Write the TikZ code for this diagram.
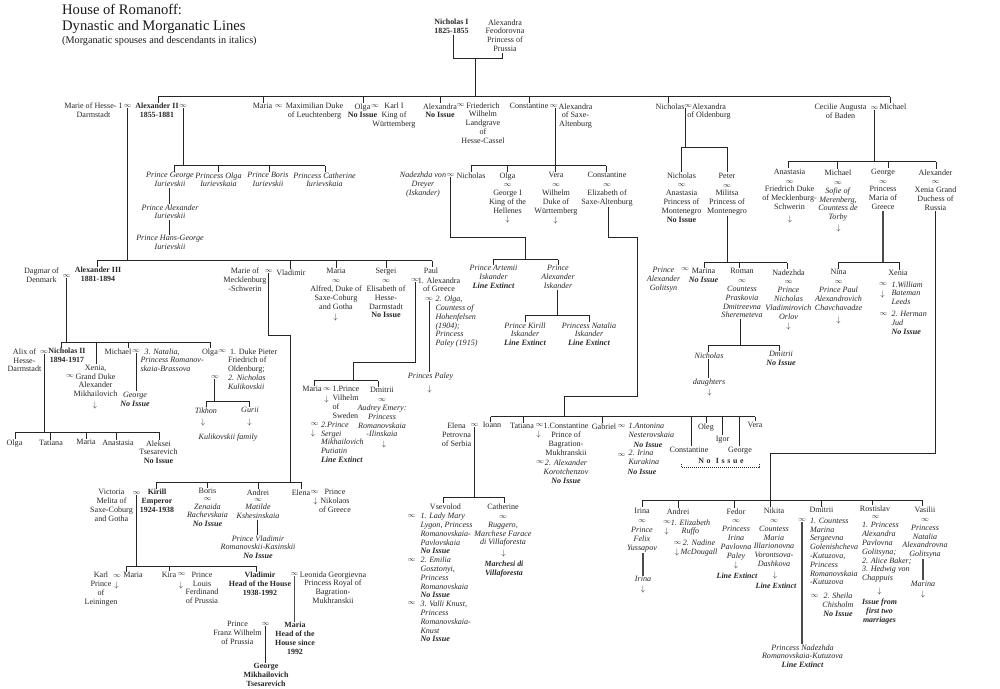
\documentclass[tikz,border=0pt]{standalone}
\usepackage{fontspec}
\setmainfont{Liberation Serif}
\newcounter{autoname}
\newcommand\bi[1]{\textbf{\textit{#1}}}
\newcommand\lem{{\fontsize{7}{7}\selectfont$\infty$}}
\tikzset{
  tx/.style={inner sep=1pt,outer sep=0pt,anchor=north,align=center,text=black!85,font=\fontsize{8.1}{8.8}\selectfont},
  lf/.style={tx,anchor=north west,align=left},
  it/.style={font=\fontsize{8.1}{8.8}\selectfont\itshape},
  bf/.style={font=\fontsize{7.9}{8.8}\selectfont\bfseries},
  bit/.style={font=\fontsize{7.9}{8.8}\selectfont\bfseries\itshape},
  ln/.style={draw=black!85,line width=1pt},
  thk/.style={draw=black!70,line width=1.5pt},
  oo/.style={inner sep=0.5pt,outer sep=0pt,text=black!80,font=\fontsize{7}{7}\selectfont},
  ar/.style={inner sep=0pt,outer sep=0pt,text=black!80,font=\fontsize{8}{8}\selectfont}
}
% text node: name, x, y of first line centre, text
\newcommand\T[5][]{\node[tx,#1] (#2) at (#3,#4-3.5) {#5};}
\newcommand\Tl[5][]{\node[lf,#1] (#2) at (#3,#4-3.5) {#5};}
\newcommand\M[3]{\node[oo] (#1) at (#2,#3) {$\infty$};}
\newcommand\Ar[2]{\stepcounter{autoname}\node[ar] (arrow\theautoname) at (#1,#2) {$\downarrow$};}
% bus: y, xmin, xmax, list x/name
\newcommand\Bus[4]{\draw[ln] (#2,#1) -- (#3,#1);
  \foreach \x/\n in {#4} {\draw[ln] (\x,#1) -- (\x,#1 |- \n.north);}}
\begin{document}
\begin{tikzpicture}[x=1pt,y=-1pt]
\useasboundingbox (0,0) rectangle (1000,688);
% title
\node[inner sep=0pt,anchor=west,text=black!90,font=\fontsize{14.6}{18}\selectfont] (title1) at (62,9) {House of Romanoff:};
\node[inner sep=0pt,anchor=west,text=black!90,font=\fontsize{14.6}{18}\selectfont] (title2) at (62,27) {Dynastic and Morganatic Lines};
\node[inner sep=0pt,anchor=west,text=black!90,font=\fontsize{10.2}{12}\selectfont] (title3) at (62,41.5) {(Morganatic spouses and descendants in italics)};
% top
\T[bf]{nI}{451.5}{22}{Nicholas I\\1825-1855}
\T{alF}{505}{22}{Alexandra\\Feodorovna\\Princess of\\Prussia}
\coordinate (topj) at (475.5,58);
\draw[ln] (453,0 |- nI.south) -- (453,58) -- (502,58) -- (502,0 |- alF.south);
\draw[ln] (topj) -- (475.5,96.5);
\T{marieH}{93.5}{105.5}{Marie of Hesse- 1\\Darmstadt}
\M{mA}{127.5}{106}
\T[bf]{alexII}{157}{106}{Alexander II\\1855-1881}
\M{mB}{183}{106}
\T{mariaL}{262.5}{106}{Maria}
\M{mC}{278.5}{106}
\T{maxi}{314.5}{105.5}{Maximilian Duke\\of Leuchtenberg}
\T{olgaW}{362.5}{106}{Olga\\\textbf{No Issue}}
\M{mD}{375}{106}
\T{karl}{394}{105.5}{Karl I\\King of\\Württemberg}
\T{alexa}{440}{106}{Alexandra\\\textbf{No Issue}}
\M{mE}{460.5}{105}
\T{fried}{483}{105}{Friederich\\Wilhelm\\Landgrave\\of\\Hesse-Cassel}
\T{const}{529}{106}{Constantine}
\M{mF}{553.5}{106}
\T{alexS}{575.5}{106}{Alexandra\\of Saxe-\\Altenburg}
\T{nichO}{670}{106}{Nicholas}
\M{mG}{688}{106}
\T{alexO}{709}{106}{Alexandra\\of Oldenburg}
\T{cecil}{840.5}{106.5}{Cecilie Augusta\\of Baden}
\M{mH}{874.5}{108}
\T{micha}{893}{106}{Michael}
\Bus{96.5}{158}{890}{158/alexII,263.5/mariaL,363.5/olgaW,440/alexa,529/const,668/nichO,890/micha}
% Alexander II's second marriage
\draw[ln] (mB.south) -- (mB.south |- 0,165.5);
\T[it]{pgeo}{170}{175}{Prince George\\Iurievskii}
\T[it]{polg}{218.5}{175}{Princess Olga\\Iurievskaia}
\T[it]{pbor}{268}{175}{Prince Boris\\Iurievskii}
\T[it]{pcat}{324.5}{175}{Princess Catherine\\Iurievskaia}
\Bus{165.5}{174}{325}{174/pgeo,218/polg,269/pbor,325/pcat}
\T[it]{palx}{170}{207}{Prince Alexander\\Iurievskii}
\T[it]{phan}{170}{238}{Prince Hans-George\\Iurievskii}
\draw[ln] (169.5,0 |- pgeo.south) -- (169.5,0 |- palx.north);
\draw[ln] (169.5,0 |- palx.south) -- (169.5,0 |- phan.north);
% Alexander II first marriage
\draw[ln] (mA.south) -- (mA.south |- 0,260.5);
\T{dagm}{41.5}{270}{Dagmar of\\Denmark}
\M{mI}{66.5}{275.5}
\T[bf]{alexIII}{98}{270}{Alexander III\\1881-1894}
\T{marieM}{245}{270.5}{Marie of\\Mecklenburg\\-Schwerin}
\M{mJ}{268.5}{271}
\T{vlad}{291}{272}{Vladimir}
\T{mariaA}{336}{271}{Maria\\\lem\\Alfred, Duke of\\Saxe-Coburg\\and Gotha}
\Ar{335.5}{317}
\T{serg}{386}{271}{Sergei\\\lem\\Elisabeth of\\Hesse-\\Darmstadt\\\textbf{No Issue}}
\T{paul}{431}{270.5}{Paul}
\M{mK}{415}{280}
\T{alexG}{439}{280}{1. Alexandra\\of Greece}
\M{mL}{429}{298.5}
\Tl[it]{olgaP}{434.5}{298.5}{2. Olga,\\Countess of\\Hohenfelsen\\(1904);\\Princess\\Paley (1915)}
\Bus{260.5}{97}{432}{97/alexIII,290/vlad,336/mariaA,386/serg,432/paul}
% Constantine family
\draw[ln] (555,0 |- mF.south) -- (555,165.5);
\T[it]{nadez}{423}{174.5}{Nadezhda von\\Dreyer\\(Iskander)}
\M{mM}{450.5}{175}
\T{nichC}{471}{175}{Nicholas}
\T{olgaH}{507.5}{175}{Olga\\\lem\\George I\\King of the\\Hellenes}
\Ar{507.5}{219}
\T{veraW}{556}{175}{Vera\\\lem\\Wilhelm\\Duke of\\Württemberg}
\Ar{555.5}{220.5}
\T{constE}{607}{175}{Constantine\\\lem\\Elizabeth of\\Saxe-Altenburg}
\Bus{165.5}{471}{606}{471/nichC,507/olgaH,555/veraW,606/constE}
\T[it]{artem}{493.5}{268}{Prince Artemii\\Iskander\\\bi{Line Extinct}}
\T[it]{palxI}{558}{268}{Prince\\Alexander\\Iskander}
\coordinate (jN1) at (450.5,237.5);
\coordinate (jN2) at (525.5,237.5);
\coordinate (jN3) at (525.5,259.5);
\draw[ln] (mM.south) -- (jN1) -- (jN2) -- (jN3);
\Bus{259.5}{493}{558}{493/artem,558/palxI}
\T[it]{kiriI}{525}{325}{Prince Kirill\\Iskander\\\bi{Line Extinct}}
\T[it]{nataI}{589}{325}{Princess Natalia\\Iskander\\\bi{Line Extinct}}
\draw[ln] (557,0 |- palxI.south) -- (557,315);
\Bus{315}{525}{589.5}{525/kiriI,589.5/nataI}
% Constantine's children row
\coordinate (jC1) at (608.5,237.5);
\coordinate (jC2) at (637.5,237.5);
\coordinate (jC3) at (637.5,396);
\coordinate (jC4) at (564,396);
\coordinate (jC5) at (564,416.5);
\draw[ln] (608.5,0 |- constE.south) -- (jC1) -- (jC2) -- (jC3) -- (jC4) -- (jC5);
\T{elenaS}{456.5}{425.5}{Elena\\Petrovna\\of Serbia}
\M{mN}{474.5}{425}
\T{ioann}{492}{425}{Ioann}
\T{tatB}{522}{426}{Tatiana}
\M{mO}{539.5}{425}
\Ar{538.5}{434.5}
\T{constB}{566}{426}{1.Constantine\\Prince of\\Bagration-\\Mukhranskii}
\M{mP}{540}{462}
\T[it]{alexK}{566}{462.5}{2. Alexander\\Korotchenzov\\\bi{No Issue}}
\T{gabr}{604}{426}{Gabriel}
\M{mQ}{621.5}{426}
\Tl[it]{anto}{627.5}{426}{1.Antonina\\Nesterovskaia}
\T[bit]{noA}{648}{444.5}{No Issue}
\M{mR}{621.5}{455}
\Tl[it]{irinK}{627.5}{452.5}{2. Irina\\Kurakina}
\T[bit]{noB}{642}{472}{No Issue}
\T{constK}{689}{449.5}{Constantine}
\T{oleg}{706}{426}{Oleg}
\T{igor}{722.5}{438.5}{Igor}
\T{georK}{740}{449.5}{George}
\T{veraK}{755}{424.5}{Vera}
\T[bf]{noC}{721}{461}{N\,\,o\,\,\,\,I\,\,s\,\,s\,\,u\,\,e}
\draw[ln,densely dotted,line width=0.7pt] (681.5,464) -- (681.5,467.5) -- (759,467.5) -- (759,464);
\Bus{416.5}{490.5}{755}{490.5/ioann,523/tatB,602/gabr,691/constK,706/oleg,722/igor,739/georK,755/veraK}
% Nicholas family
\draw[ln] (685,0 |- mG.south) -- (685,147);
\T{nichA}{681.5}{175}{Nicholas\\\lem\\Anastasia\\Princess of\\Montenegro\\\textbf{No Issue}}
\T{petM}{727}{175.5}{Peter\\\lem\\Militsa\\Princess of\\Montenegro}
\Bus{147}{681.7}{727.5}{681.7/nichA,727.5/petM}
\T[it]{golit}{663.5}{270}{Prince\\Alexander\\Golitsyn}
\M{mS}{685}{269}
\T{marinG}{703.5}{271}{Marina\\\bi{No Issue}}
\T{romS}{742}{271}{Roman\\\lem\\\textit{Countess}\\\textit{Praskovia}\\\textit{Dmitreevna}\\\textit{Sheremeteva}}
\T{nadO}{788.5}{272}{Nadezhda\\\lem\\\textit{Prince}\\\textit{Nicholas}\\\textit{Vladimirovich}\\\textit{Orlov}}
\Ar{788.5}{326.5}
\draw[ln] (727.5,0 |- petM.south) -- (727.5,262.5);
\Bus{262.5}{704}{787}{704/marinG,739.5/romS,787/nadO}
\T[it]{nichD}{709}{355}{Nicholas}
\T[it]{daug}{709}{381.5}{daughters}
\Ar{709.5}{392.5}
\draw[ln] (708.5,0 |- nichD.south) -- (708.5,0 |- daug.north);
\T{dmitS}{781}{354}{\textit{Dmitrii}\\\bi{No Issue}}
\draw[ln] (740.5,0 |- romS.south) -- (740.5,345);
\Bus{345}{708.5}{779}{708.5/nichD,779/dmitS}
% Michael family
\draw[ln] (mH.south) -- (874.5,161.5);
\T{anaM}{789.5}{171.5}{Anastasia\\\lem\\Friedrich Duke\\of Mecklenburg-\\Schwerin}
\Ar{790}{219}
\T{micM}{838}{172.5}{Michael\\\lem\\\textit{Sofie of}\\\textit{Merenberg,}\\\textit{Countess de}\\\textit{Torby}}
\Ar{838.5}{228}
\T{geoM}{883}{171.5}{George\\\lem\\Princess\\Maria of\\Greece}
\T{alxM}{935.5}{172}{Alexander\\\lem\\Xenia Grand\\Duchess of\\Russia}
\Bus{161.5}{788}{936}{788/anaM,837/micM,888.5/geoM,936/alxM}
\T{ninaC}{838.5}{272}{Nina\\\lem\\\textit{Prince Paul}\\\textit{Alexandrovich}\\\textit{Chavchavadze}}
\Ar{838.5}{320}
\T{xeniaB}{898}{273}{Xenia}
\M{mT}{883}{284}
\Tl[it]{willB}{890.5}{284}{1.William\\Bateman\\Leeds}
\Ar{882.5}{294.5}
\M{mU}{883.5}{314}
\Tl[it]{herm}{890.5}{314}{2. Herman\\Jud\\\bi{No Issue}}
\draw[thk] (883,0 |- geoM.south) -- (883,262.5);
\Bus{262.5}{838}{899.5}{838/ninaC,899.5/xeniaB}
% Alexander's long line
\coordinate (jX1) at (935.5,453.5);
\coordinate (jX2) at (770.5,453.5);
\coordinate (jX3) at (770.5,500);
\draw[ln] (935.5,0 |- alxM.south) -- (jX1) -- (jX2) -- (jX3);
% Children of Alexander (Xenia's)
\T{iriY}{642}{510.5}{Irina\\\lem\\[2pt]\textit{Prince}\\\textit{Felix}\\\textit{Yussapov}}
\T[it]{iriZ}{643}{579}{Irina}
\Ar{643}{589}
\draw[thk] (643,0 |- iriY.south) -- (643,0 |- iriZ.north);
\T{andR}{678}{511}{Andrei}
\M{mV}{667}{522}
\T[it]{eliz}{690.5}{522}{1. Elizabeth\\Ruffo}
\Ar{666.5}{531}
\M{mW}{677.5}{542.5}
\T[it]{nadi}{699}{542.5}{2. Nadine\\McDougall}
\Ar{677}{552}
\T{fedo}{736}{511}{Fedor\\\lem\\\textit{Princess}\\\textit{Irina}\\\textit{Pavlovna}\\\textit{Paley}}
\Ar{736}{565.5}
\T[bit]{leF}{737}{576}{Line Extinct}
\T{niki}{774}{510.5}{Nikita\\\lem\\\textit{Countess}\\\textit{Maria}\\\textit{Illarionovna}\\\textit{Vorontsova-}\\\textit{Dashkova}}
\Ar{775}{575}
\T[bit]{leN}{776}{586}{Line Extinct}
\T{dmiR}{821.5}{510}{Dmitrii}
\M{mX}{802}{520}
\Tl[it]{marG}{809}{520.5}{1. Countess\\Marina\\Sergeevna\\Golenishcheva\\-Kutuzova,\\Princess\\Romanovskaia\\-Kutuzova}
\M{mY}{814.5}{596}
\T[it]{shei}{838}{595.5}{2. Sheila\\Chisholm\\\bi{No Issue}}
\T[it]{pnad}{802.5}{647}{Princess Nadezhda\\Romanovskaia-Kutuzova\\\bi{Line Extinct}}
\draw[thk] (mX.south) -- (mX.south |- pnad.north);
\T{rost}{875}{508.5}{Rostislav}
\M{mZ}{875.5}{517}
\Tl[it]{princ}{861}{525}{1. Princess\\Alexandra\\Pavlovna\\Golitsyna;\\2. Alice Baker;\\3. Hedwig von\\Chappuis}
\Ar{879.5}{591}
\T[bit]{issu}{879.5}{601.5}{Issue from\\first two\\marriages}
\T{vasi}{925}{509.5}{Vasilii\\\lem\\\textit{Princess}\\\textit{Natalia}\\\textit{Alexandrovna}\\\textit{Golitsyna}}
\T[it]{marV}{923}{583.5}{Marina}
\Ar{923}{594.5}
\draw[thk] (923,0 |- vasi.south) -- (923,0 |- marV.north);
\Bus{500}{642}{922}{642/iriY,678/andR,734/fedo,770.5/niki,821.5/dmiR,872.5/rost,922/vasi}
% Elena of Serbia's children
\draw[ln] (474,0 |- mN.south) -- (474,497);
\T{vsev}{445.5}{506.5}{Vsevolod}
\T{cath}{503}{506.5}{Catherine\\\lem\\\textit{Ruggero,}\\\textit{Marchese Farace}\\\textit{di Villaforesta}}
\Ar{503.5}{553.5}
\T[bit]{marcV}{504}{564}{Marchesi di\\Villaforesta}
\Bus{497}{443}{504.5}{443/vsev,504.5/cath}
\M{mAa}{411.5}{515.5}
\M{mAb}{411.5}{559.5}
\M{mAc}{411.5}{603}
\Tl[it]{vsevW}{419.5}{515.5}{1. Lady Mary\\Lygon, Princess\\Romanovskaia-\\Pavlovskaia\\\bi{No Issue}\\2. Emilia\\Gosztonyi,\\Princess\\Romanovskaia\\\bi{No Issue}\\3. Valli Knust,\\Princess\\Romanovskaia-\\Knust\\\bi{No Issue}}
% Alexander III's family
\draw[ln] (mI.south) -- (66.5,342);
\T{alix}{24.5}{351}{Alix of\\Hesse-\\Darmstadt}
\M{mBa}{44}{352}
\T[bf]{nichII}{67}{351}{Nicholas II\\1894-1917}
\T{xenG}{95.5}{367.5}{Xenia,\\Grand Duke\\Alexander\\Mikhailovich}
\M{mBb}{70}{376}
\Ar{95}{405}
\T{michB}{118}{351}{Michael}
\M{mBc}{136}{350.5}
\Tl[it]{nataB}{139.5}{351}{\hspace{4pt}3. Natalia,\\Princess Romanov-\\skaia-Brassova}
\T{georB}{135}{394.5}{\textit{George}\\\bi{No Issue}}
\draw[ln] (mBc.south) -- (mBc.south |- georB.north);
\T{olgaK}{210}{351}{Olga}
\M{mBd}{222}{351}
\Tl{duke}{227}{351}{\hspace{2pt}1. Duke Pieter\\Friedrich of\\Oldenburg;\\\textit{2. Nicholas}\\\textit{Kulikovskii}}
\M{mBe}{215}{377}
\T[it]{tikh}{206}{410}{Tikhon}
\T[it]{guri}{250}{410}{Gurii}
\Ar{203}{422.5}
\Ar{249.5}{422.5}
\T[it]{kulf}{228}{436}{Kulikovskii family}
\draw[ln] (214.5,0 |- mBe.south) -- (214.5,401);
\Bus{401}{206}{249.5}{206/tikh,249.5/guri}
\Bus{342}{61}{210}{61/nichII,96/xenG,128.5/michB,210/olgaK}
\draw[ln] (mBa.south) -- (44,432);
\T{olgaN}{14.5}{442}{Olga}
\T{tatN}{51}{443}{Tatiana}
\T{marN}{86}{442}{Maria}
\T{anaN}{118}{443}{Anastasia}
\T{alek}{158.5}{443}{Aleksei\\Tsesarevich\\\textbf{No Issue}}
\Bus{432}{15.5}{159.5}{15.5/olgaN,50/tatN,86/marN,116/anaN,159.5/alek}
% Paul's children
\coordinate (jP1) at (415,362);
\coordinate (jP2) at (353,362);
\coordinate (jP3) at (353,380.5);
\draw[ln] (mK.south) -- (jP1) -- (jP2) -- (jP3);
\T{marS}{312}{389}{Maria}
\M{mCa}{327}{389}
\Ar{326.5}{399}
\Tl{vilh}{331.5}{389}{1.Prince\\Vilhelm\\of\\Sweden}
\M{mCb}{314.5}{424}
\Ar{313}{433}
\Tl[it]{sergP}{320}{424.5}{2.Prince\\Sergei\\Mikhailovich\\Putiatin\\\bi{Line Extinct}}
\T{dmiA}{382}{390}{Dmitrii\\\lem\\\textit{Audrey Emery:}\\\textit{Princess}\\\textit{Romanovskaia}\\\textit{-Ilinskaia}}
\Ar{384}{444}
\Bus{380.5}{314}{378}{314/marS,378/dmiA}
\T[it]{ppal}{430.5}{375}{Princes Paley}
\Ar{429.5}{389.5}
\draw[ln] (mL.south) -- (mL.south |- ppal.north);
% Vladimir's family
\coordinate (jV1) at (268.5,335);
\coordinate (jV2) at (290.5,335);
\coordinate (jV3) at (290.5,482.5);
\draw[ln] (mJ.south) -- (jV1) -- (jV2) -- (jV3);
\T{vict}{111.5}{492}{Victoria\\Melita of\\Saxe-Coburg\\and Gotha}
\M{mDa}{136.5}{493}
\T[bf]{kiri}{157}{492}{Kirill\\Emperor\\1924-1938}
\T{bori}{207.5}{491}{Boris\\[-2.2pt]\lem\\[-0.2pt]\textit{Zenaida}\\\textit{Rachevskaia}\\\bi{No Issue}}
\T{andK}{258}{492}{Andrei\\[-2.5pt]\lem\\[-0.5pt]\textit{Matilde}\\\textit{Kshesinskaia}}
\T[it]{pvla}{258}{538}{Prince Vladimir\\Romanovskii-Kasinskii\\\bi{No Issue}}
\draw[ln] (257.5,0 |- andK.south) -- (257.5,0 |- pvla.north);
\T{elenN}{301}{492}{Elena}
\M{mDb}{314.5}{492}
\Ar{315.5}{501}
\T{nikoG}{335}{492}{Prince\\Nikolaos\\of Greece}
\Bus{482.5}{156}{301.5}{156/kiri,207.5/bori,258/andK,301.5/elenN}
\draw[ln] (mDa.south) -- (136.5,566);
\T{karlL}{101}{574.5}{Karl\\Prince\\of\\Leiningen}
\M{mEa}{117}{576}
\Ar{116.5}{585.5}
\T{marL}{133}{575}{Maria}
\T{kira}{169}{574.5}{Kira}
\M{mEb}{181.5}{574}
\Ar{181}{585}
\T{loui}{202}{574.5}{Prince\\Louis\\Ferdinand\\of Prussia}
\T[bf]{vlaH}{260}{575}{Vladimir\\Head of the House\\1938-1992}
\M{mEc}{294.5}{574}
\T{leon}{333}{574}{Leonida Georgievna\\Princess Royal of\\Bagration-\\Mukhranskii}
\Bus{566}{126}{256}{126/marL,169/kira,256/vlaH}
\T[bf]{marH}{295}{625}{Maria\\Head of the\\House since\\1992}
\draw[thk] (mEc.south) -- (mEc.south |- marH.north);
\T{fran}{237.5}{624}{Prince\\Franz Wilhelm\\of Prussia}
\M{mF2}{265.5}{624}
\T[bf]{geoT}{266}{666}{George\\Mikhailovich\\Tsesarevich}
\draw[ln] (mF2.south) -- (mF2.south |- geoT.north);
\end{tikzpicture}
\end{document}
